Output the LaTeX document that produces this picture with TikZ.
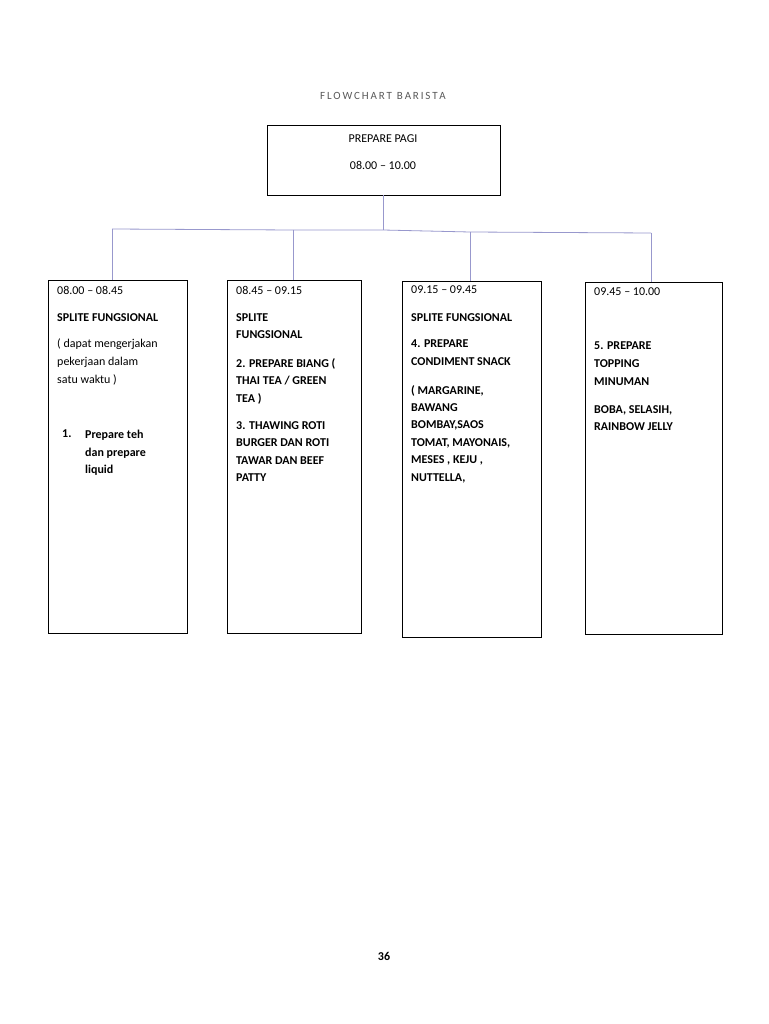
\documentclass[tikz,border=0pt]{standalone}
\usepackage{fontspec}
\setmainfont{Carlito}
\begin{document}
\begin{tikzpicture}[x=1pt,y=-1pt,
  box/.style={draw,line width=0.9pt},
  conn/.style={draw=blue!35!gray!60,line width=0.8pt},
  txt/.style={anchor=north west,inner sep=0pt,align=left,font=\fontsize{12}{17.6}\selectfont}]
\useasboundingbox[fill=white] (0,0) rectangle (768,1024);
\node[font=\fontsize{11}{13}\selectfont,text=black!65] (title) at (383,96) {F\,L\,O\,W\,C\,H\,A\,R\,T\ \ B\,A\,R\,I\,S\,T\,A};
\draw[box] (267,125) rectangle (500,195);
\node[font=\fontsize{12}{14}\selectfont] (t1) at (383,139) {PREPARE PAGI};
\node[font=\fontsize{12}{14}\selectfont] (t2) at (383,165) {08.00 – 10.00};
\draw[box] (48,280) rectangle (187,633);
\draw[box] (227,280) rectangle (361,633);
\draw[box] (402,281) rectangle (541,637);
\draw[box] (585,282) rectangle (722,634);
\coordinate (top) at (383,195);
\coordinate (hub) at (383,230);
\coordinate (h1) at (112,229);
\coordinate (h2) at (293,230);
\coordinate (h3) at (470,232);
\coordinate (h4) at (651,233);
\draw[conn] (top) -- (hub);
\draw[conn] (h1) -- (h2) -- (hub) -- (h3) -- (h4);
\draw[conn] (h1) -- (112,280);
\draw[conn] (h2) -- (293,280);
\draw[conn] (h3) -- (470,281);
\draw[conn] (h4) -- (651,282);
% box 1
\node[txt] (a1) at (57,286) {08.00 – 08.45};
\node[txt,font=\bfseries\fontsize{12}{17.6}\selectfont] (a2) at (57,313) {SPLITE FUNGSIONAL};
\node[txt] (a3) at (57,339) {( dapat mengerjakan\\pekerjaan dalam\\satu waktu )};
\node[txt,font=\bfseries\fontsize{12}{17.6}\selectfont] (a4) at (62,430) {1.};
\node[txt,font=\bfseries\fontsize{12}{17.6}\selectfont] (a5) at (85,430) {Prepare teh\\dan prepare\\liquid};
% box 2
\node[txt] (b1) at (236,286) {08.45 – 09.15};
\node[txt,font=\bfseries\fontsize{12}{17.6}\selectfont] (b2) at (236,313) {SPLITE\\FUNGSIONAL};
\node[txt,font=\bfseries\fontsize{12}{17.6}\selectfont] (b3) at (236,358) {2. PREPARE BIANG (\\THAI TEA / GREEN\\TEA )};
\node[txt,font=\bfseries\fontsize{12}{17.6}\selectfont] (b4) at (236,421) {3. THAWING ROTI\\BURGER DAN ROTI\\TAWAR DAN BEEF\\PATTY};
% box 3
\node[txt] (c1) at (411,286) {09.15 – 09.45};
\node[txt,font=\bfseries\fontsize{12}{17.6}\selectfont] (c2) at (411,313) {SPLITE FUNGSIONAL};
\node[txt,font=\bfseries\fontsize{12}{17.6}\selectfont] (c3) at (411,340) {4. PREPARE\\CONDIMENT SNACK};
\node[txt,font=\bfseries\fontsize{12}{17.4}\selectfont] (c4) at (411,385) {( MARGARINE,\\BAWANG\\BOMBAY,SAOS\\TOMAT, MAYONAIS,\\MESES , KEJU ,\\NUTTELLA,};
% box 4
\node[txt] (d1) at (594,288) {09.45 – 10.00};
\node[txt,font=\bfseries\fontsize{12}{17.6}\selectfont] (d2) at (594,342) {5. PREPARE\\TOPPING\\MINUMAN};
\node[txt,font=\bfseries\fontsize{12}{17.6}\selectfont] (d3) at (594,405) {BOBA, SELASIH,\\RAINBOW JELLY};
\node[font=\bfseries\fontsize{12}{14}\selectfont] (pg) at (384,956) {36};
\end{tikzpicture}
\end{document}
